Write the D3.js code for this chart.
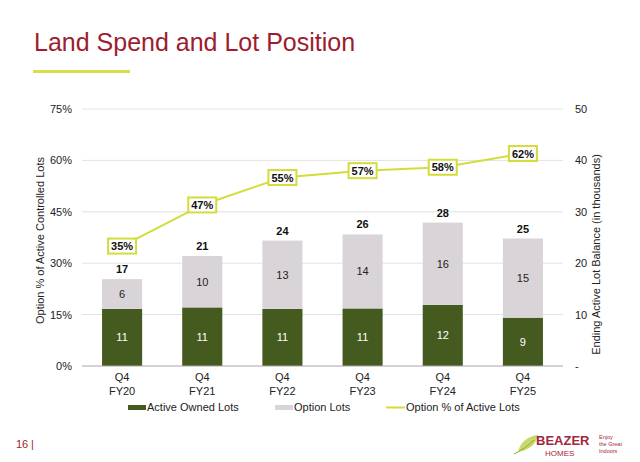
<!DOCTYPE html>
<html>
<head>
<meta charset="utf-8">
<script src="https://cdn.jsdelivr.net/npm/d3@7"></script>
<style>
  body { margin: 0; background: #fff; }
  svg { font-family: "Liberation Sans", Arial, sans-serif; display: block; }
</style>
</head>
<body>
<div id="chart"></div>
<script>
// chart data (lots in thousands)
const periods = ["Q4 FY20", "Q4 FY21", "Q4 FY22", "Q4 FY23", "Q4 FY24", "Q4 FY25"];
const ownedLots = [11.1, 11.4, 11.1, 11.2, 11.9, 9.4];
const optionLots = [5.8, 10.0, 13.3, 14.4, 16.0, 15.4];
const optionPct = [35, 47, 55, 57, 58, 62];
const pctTicks = [0, 15, 30, 45, 60, 75];
const lotTicks = [0, 10, 20, 30, 40, 50];

const width = 640, height = 462;
const margin = { left: 82, right: 77, top: 109, bottom: 96 };

const green = "#455a1f", grey = "#d9d4d8", lime = "#d3dd3a", red = "#9d1d30";

const svg = d3.select("#chart").append("svg")
    .attr("width", width)
    .attr("height", height);

// title
svg.append("text")
    .attr("x", 34).attr("y", 51)
    .attr("font-size", 25)
    .attr("fill", red)
    .text("Land Spend and Lot Position");
svg.append("rect")
    .attr("x", 33).attr("y", 70)
    .attr("width", 97).attr("height", 3)
    .attr("fill", "#d7e04a");

const x = d3.scaleBand()
    .domain(periods)
    .range([margin.left, width - margin.right])
    .paddingInner(0.5).paddingOuter(0.25);

const yPct = d3.scaleLinear().domain([0, 75]).range([height - margin.bottom, margin.top]);
const yLots = d3.scaleLinear().domain([0, 50]).range([height - margin.bottom, margin.top]);

// gridlines
svg.append("g")
    .selectAll("line")
    .data(pctTicks.slice(1))
    .join("line")
    .attr("x1", margin.left).attr("x2", width - margin.right)
    .attr("y1", d => yPct(d)).attr("y2", d => yPct(d))
    .attr("stroke", "#e2e2e2").attr("stroke-width", 1);

// left axis
const leftAxis = svg.append("g")
    .attr("transform", `translate(${margin.left},0)`)
    .call(d3.axisLeft(yPct).tickValues(pctTicks).tickFormat(d => d + "%").tickSize(0).tickPadding(10));
leftAxis.select(".domain").remove();
leftAxis.selectAll("text").attr("font-size", 11).attr("fill", "#222").attr("font-family", null);

// right axis
const rightAxis = svg.append("g")
    .attr("transform", `translate(${width - margin.right},0)`)
    .call(d3.axisRight(yLots).tickValues(lotTicks).tickFormat(d => d === 0 ? "-" : d).tickSize(0).tickPadding(12));
rightAxis.select(".domain").remove();
rightAxis.selectAll("text").attr("font-size", 11).attr("fill", "#222").attr("font-family", null);

// axis titles
svg.append("text")
    .attr("transform", `translate(44,${(yPct(0) + yPct(75)) / 2 + 3}) rotate(-90)`)
    .attr("text-anchor", "middle")
    .attr("font-size", 11)
    .attr("fill", "#222")
    .text("Option % of Active Controlled Lots");
svg.append("text")
    .attr("transform", `translate(600,${(yPct(0) + yPct(75)) / 2 + 17}) rotate(-90)`)
    .attr("text-anchor", "middle")
    .attr("font-size", 11)
    .attr("fill", "#222")
    .text("Ending Active Lot Balance (in thousands)");

// stacked bars
const rows = periods.map((p, i) => ({ period: p, owned: ownedLots[i], option: optionLots[i] }));
const stack = d3.stack().keys(["owned", "option"]);
const series = stack(rows);
const colors = { owned: green, option: grey };

svg.append("g")
    .selectAll("g")
    .data(series)
    .join("g")
    .attr("fill", d => colors[d.key])
    .selectAll("rect")
    .data(d => d)
    .join("rect")
    .attr("x", d => x(d.data.period))
    .attr("width", x.bandwidth())
    .attr("y", d => yLots(d[1]))
    .attr("height", d => yLots(d[0]) - yLots(d[1]));

// segment labels
series.forEach(s => {
    svg.append("g")
        .selectAll("text")
        .data(s)
        .join("text")
        .attr("x", d => x(d.data.period) + x.bandwidth() / 2)
        .attr("y", d => (yLots(d[0]) + yLots(d[1])) / 2 + 4)
        .attr("text-anchor", "middle")
        .attr("font-size", 11)
        .attr("fill", s.key === "owned" ? "#fff" : "#222")
        .text(d => Math.round(d[1] - d[0]));
});

// totals
svg.append("g")
    .selectAll("text")
    .data(rows)
    .join("text")
    .attr("x", d => x(d.period) + x.bandwidth() / 2)
    .attr("y", d => yLots(d.owned + d.option) - 6)
    .attr("text-anchor", "middle")
    .attr("font-size", 11)
    .attr("font-weight", "bold")
    .attr("fill", "#111")
    .text(d => Math.round(d.owned + d.option));

// baseline
svg.append("line")
    .attr("x1", margin.left).attr("x2", width - margin.right)
    .attr("y1", yPct(0)).attr("y2", yPct(0))
    .attr("stroke", "#a6a6a6").attr("stroke-width", 1);

// option % line
const line = d3.line()
    .x((d, i) => x(periods[i]) + x.bandwidth() / 2)
    .y(d => yPct(d));
svg.append("path")
    .datum(optionPct)
    .attr("d", line)
    .attr("fill", "none")
    .attr("stroke", lime)
    .attr("stroke-width", 2);

const pctLabels = svg.append("g")
    .selectAll("g")
    .data(optionPct)
    .join("g")
    .attr("transform", (d, i) => `translate(${x(periods[i]) + x.bandwidth() / 2},${yPct(d)})`);
pctLabels.append("rect")
    .attr("x", -14).attr("y", -7.5)
    .attr("width", 28).attr("height", 15)
    .attr("fill", "#fff")
    .attr("stroke", lime)
    .attr("stroke-width", 2);
pctLabels.append("text")
    .attr("y", 4)
    .attr("text-anchor", "middle")
    .attr("font-size", 11)
    .attr("font-weight", "bold")
    .attr("fill", "#111")
    .text(d => d + "%");

// x labels
const xLabels = svg.append("g")
    .selectAll("text")
    .data(periods)
    .join("text")
    .attr("x", d => x(d) + x.bandwidth() / 2)
    .attr("y", 381)
    .attr("text-anchor", "middle")
    .attr("font-size", 11)
    .attr("fill", "#222");
xLabels.append("tspan").attr("x", d => x(d) + x.bandwidth() / 2).text(d => d.split(" ")[0]);
xLabels.append("tspan").attr("x", d => x(d) + x.bandwidth() / 2).attr("dy", 14).text(d => d.split(" ")[1]);

// legend
const legend = svg.append("g").attr("font-size", 11).attr("fill", "#222");
const legendItems = [
    { label: "Active Owned Lots", x: 128, type: "rect", color: green },
    { label: "Option Lots", x: 275, type: "rect", color: grey },
    { label: "Option % of Active Lots", x: 386, type: "line", color: lime }
];
legendItems.forEach(it => {
    if (it.type === "rect") {
        legend.append("rect").attr("x", it.x).attr("y", 405).attr("width", 18).attr("height", 5).attr("fill", it.color);
    } else {
        legend.append("line").attr("x1", it.x).attr("x2", it.x + 19).attr("y1", 407.5).attr("y2", 407.5)
            .attr("stroke", it.color).attr("stroke-width", 2);
    }
    legend.append("text").attr("x", it.x + (it.type === "rect" ? 19 : 20)).attr("y", 411).text(it.label);
});

// footer
svg.append("text")
    .attr("x", 16).attr("y", 448)
    .attr("font-size", 11)
    .attr("fill", red)
    .text("16");
svg.append("text")
    .attr("x", 31).attr("y", 448)
    .attr("font-size", 11)
    .attr("fill", red)
    .text("|");

const logo = svg.append("g").attr("transform", "translate(514,432)");
logo.append("path")
    .attr("d", "M4,20 C6,10 14,4 24,3 C22,12 16,18 4,20 Z")
    .attr("fill", "#c9d86a");
logo.append("path")
    .attr("d", "M0,22 C8,18 14,14 20,8")
    .attr("fill", "none").attr("stroke", "#8ea83a").attr("stroke-width", 1);
logo.append("text")
    .attr("x", 22).attr("y", 13)
    .attr("font-size", 13).attr("font-weight", "bold")
    .attr("fill", "#a3263a")
    .text("BEAZER");
logo.append("text")
    .attr("x", 31).attr("y", 24)
    .attr("font-size", 8)
    .attr("fill", "#a3263a")
    .text("HOMES");
const tag = logo.append("text").attr("font-size", 5.5).attr("fill", "#a3263a");
["Enjoy", "the Great", "Indoors"].forEach((t, i) => {
    tag.append("tspan").attr("x", 85).attr("y", 7 + i * 7).text(t);
});
</script>
</body>
</html>
